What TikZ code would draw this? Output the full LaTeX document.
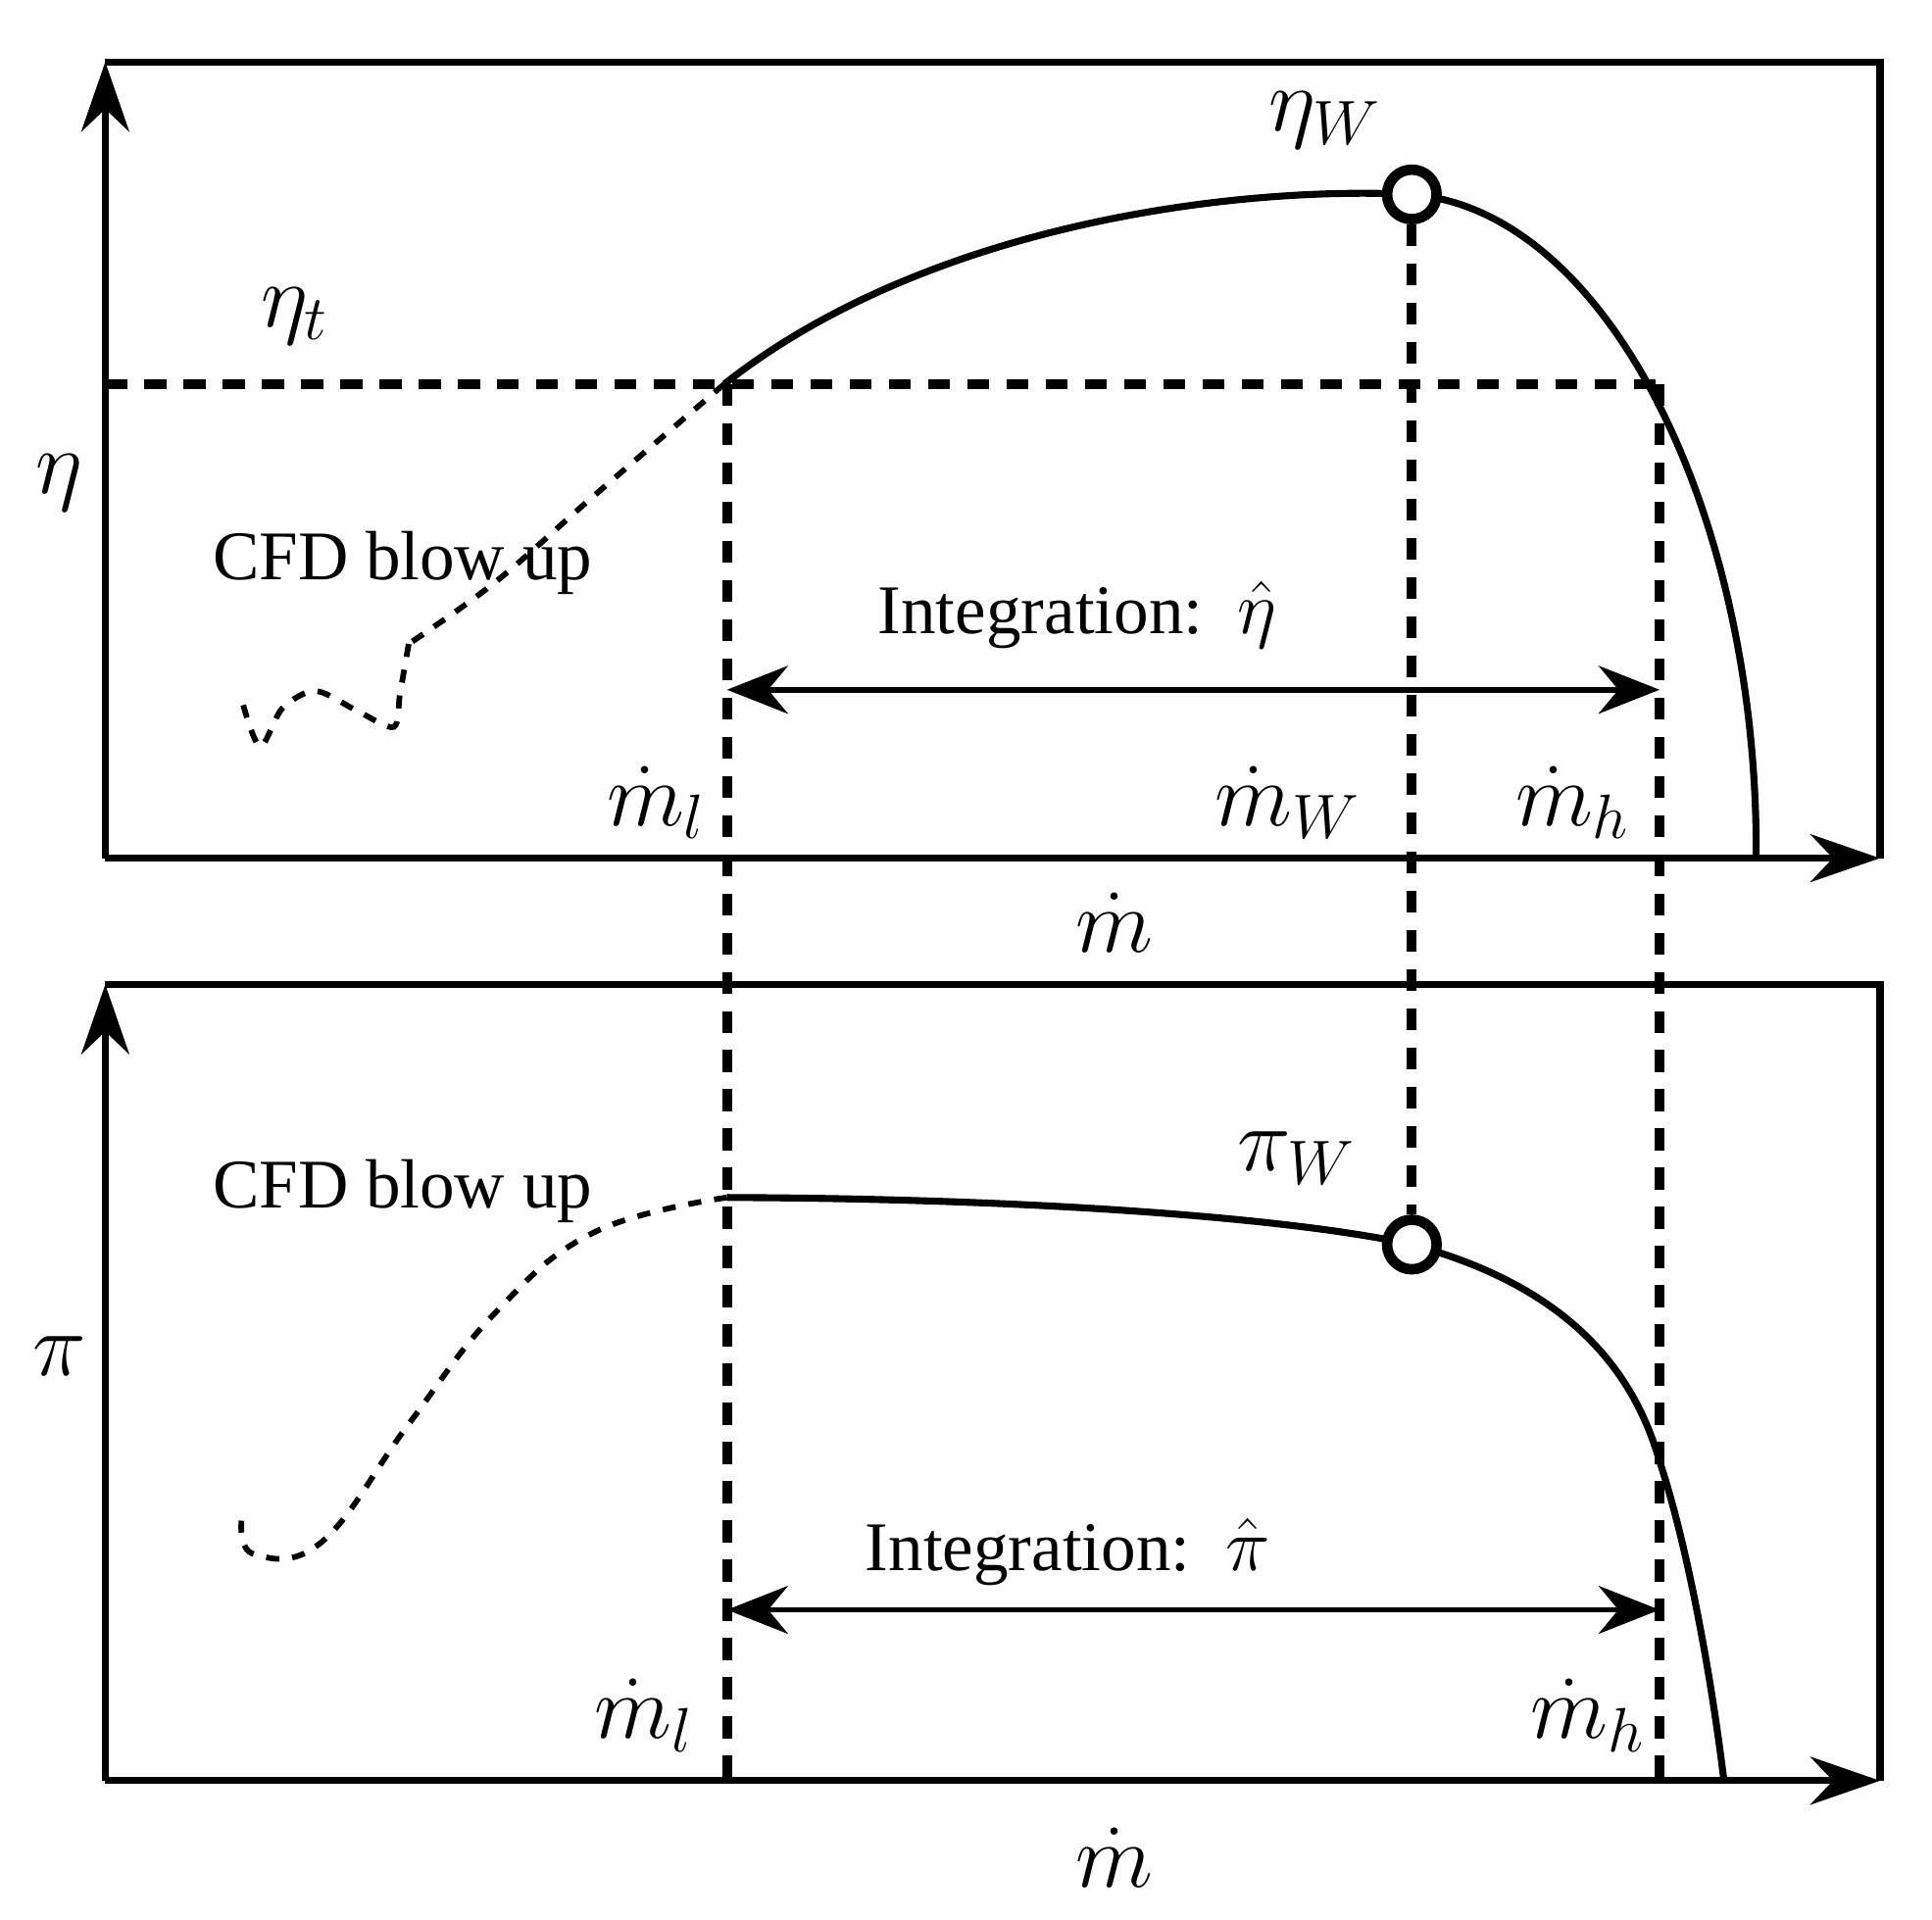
\documentclass[tikz,border=0pt]{standalone}
\usepackage{fontspec}
\setmainfont{Liberation Serif}
\usetikzlibrary{arrows.meta}
\begin{document}
\begin{tikzpicture}[x=0.01cm,y=-0.01cm,
  ax/.style={line width=1.6pt,-{Stealth[length=16pt,width=11pt]}},
  frm/.style={line width=1.6pt},
  crv/.style={line width=1.6pt},
  dsh/.style={line width=2.2pt,dash pattern=on 5pt off 4pt},
  dot/.style={line width=1.3pt,dash pattern=on 3pt off 3pt},
  mk/.style={circle,draw,fill=white,line width=2.4pt,minimum size=0.4cm,inner sep=0pt},
  dbl/.style={line width=1.3pt,{Stealth[length=14pt,width=11pt]}-{Stealth[length=14pt,width=11pt]}},
  lab/.style={font=\fontsize{20}{22}\selectfont,inner sep=1pt},
  txt/.style={font=\fontsize{16}{19}\selectfont}]
\useasboundingbox (0,0) rectangle (1560,1550);
% top frame
\coordinate (o1) at (85,693); \coordinate (y1) at (85,50); \coordinate (x1) at (1518,693);
\draw[frm] (y1) -- (1518,50) -- (x1);
\draw[ax] (o1) -- (y1);
\draw[ax] (o1) -- (x1);
% bottom frame
\coordinate (o2) at (85,1438); \coordinate (y2) at (85,795); \coordinate (x2) at (1518,1438);
\draw[frm] (y2) -- (1518,795) -- (x2);
\draw[ax] (o2) -- (y2);
\draw[ax] (o2) -- (x2);
% top curve
\coordinate (tl) at (585,310); \coordinate (th) at (1340,310);
\draw[crv] (tl) .. controls (750,180) and (1000,150) .. (1140,157)
  .. controls (1300,170) and (1420,420) .. (1418,693);
\node[mk] (cw1) at (1140,157) {};
\draw[dsh] (85,310) -- (th);
\draw[dot] plot[smooth,tension=0.6] coordinates {(585,310) (480,400) (400,470) (330,520)};
\draw[dot] plot[smooth,tension=0.5] coordinates {(330,520) (323,560) (318,587) (290,575) (255,558) (228,572) (210,603) (196,568)};
% bottom curve
\coordinate (bl) at (587,967);
\draw[crv] (bl) .. controls (850,968) and (1050,985) .. (1140,1005)
  .. controls (1270,1040) and (1320,1110) .. (1340,1180) .. controls (1360,1240) and (1380,1340) .. (1392,1438);
\node[mk] (cw2) at (1140,1005) {};
\draw[dot] plot[smooth,tension=0.7] coordinates {(587,967) (480,995) (400,1060) (330,1150) (260,1245) (205,1255) (195,1228)};
% verticals
\draw[dsh] (587,310) -- (587,1438);
\draw[dsh] (1340,310) -- (1340,1438);
\draw[dsh] (cw1) -- (cw2);
% arrows
\coordinate (a1) at (587,557); \coordinate (b1) at (1340,557);
\draw[dbl] (a1) -- (b1);
\coordinate (a2) at (587,1300); \coordinate (b2) at (1340,1300);
\draw[dbl] (a2) -- (b2);
% labels
\node[lab] (l1) at (238,255) {$\eta_t$};
\node[lab] (l2) at (48,390) {$\eta$};
\node[lab] (l3) at (1070,97) {$\eta_W$};
\node[txt] (l4) at (325,455) {CFD blow up};
\node[txt] (l5) at (870,497) {Integration:\ \ $\hat\eta$};
\node[lab] (l6) at (530,648) {$\dot m_l$};
\node[lab] (l7) at (1040,648) {$\dot m_W$};
\node[lab] (l8) at (1270,648) {$\dot m_h$};
\node[lab] (l9) at (900,745) {$\dot m$};
\node[txt] (m1) at (325,962) {CFD blow up};
\node[lab] (m2) at (48,1095) {$\pi$};
\node[lab] (m3) at (1047,935) {$\pi_W$};
\node[txt] (m4) at (862,1253) {Integration:\ \ $\hat\pi$};
\node[lab] (m5) at (520,1385) {$\dot m_l$};
\node[lab] (m6) at (1282,1385) {$\dot m_h$};
\node[lab] (m7) at (900,1500) {$\dot m$};
\end{tikzpicture}
\end{document}
